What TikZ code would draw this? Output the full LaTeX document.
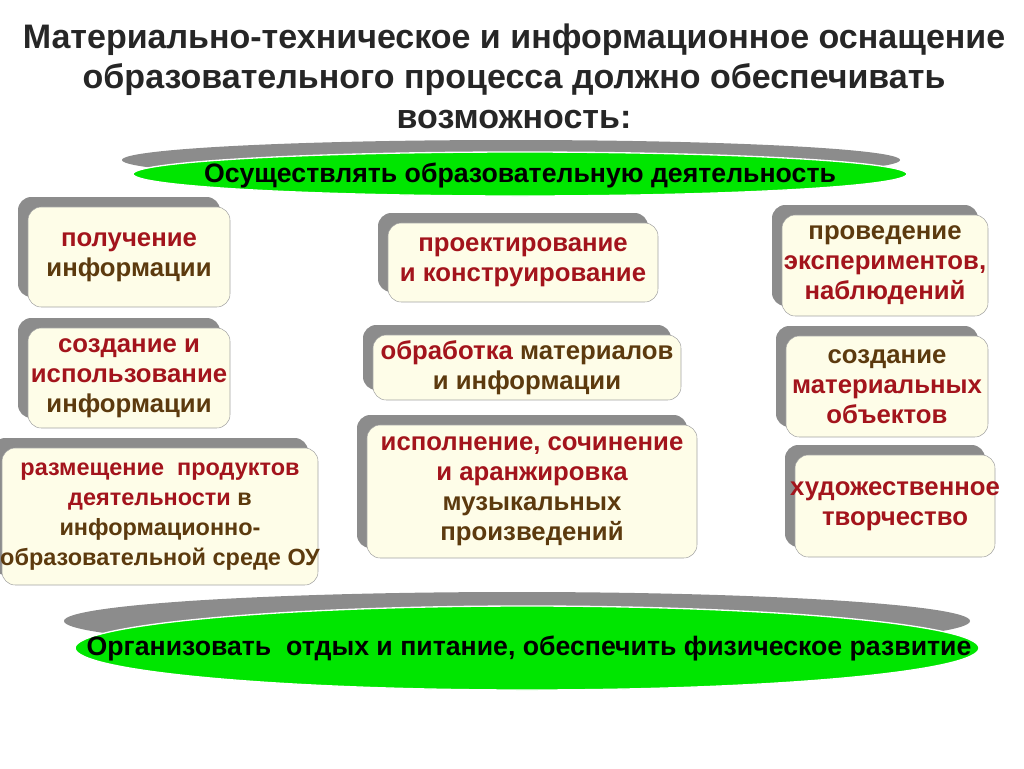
\documentclass[tikz,border=0pt]{standalone}
\usepackage{fontspec}
\setmainfont{Liberation Sans}
\definecolor{rd}{HTML}{A3141C}
\definecolor{br}{HTML}{5C3A0E}
\definecolor{bf}{HTML}{FEFDE8}
\definecolor{gr}{HTML}{00E600}
\definecolor{sh}{HTML}{8C8C8C}
\begin{document}
\begin{tikzpicture}[x=0.75pt,y=-0.75pt,
 boxf/.style={draw=sh!80,fill=bf,rounded corners=10pt},
 btext/.style={align=center,inner sep=0pt,font=\fontsize{19.3}{22.5}\selectfont\bfseries,text=br},
 shad/.style={fill=sh,rounded corners=10pt},
 etext/.style={font=\fontsize{20}{22}\selectfont\bfseries}]
\useasboundingbox (0,0) rectangle (1024,768);
\node[font=\fontsize{25.5}{30}\selectfont\bfseries,text=black!85,align=center] (title) at (514,76)
 {Материально-техническое и информационное оснащение\\образовательного процесса должно обеспечивать\\возможность:};
% ellipse 1
\fill[sh] (511,160) ellipse (389 and 20);
\fill[gr] (520,174) ellipse (387 and 22);
\draw[white,line width=1pt] (520,174) ellipse (387 and 22);
\node[etext] (e1) at (520,175) {Осуществлять образовательную деятельность};
% ellipse 2
\fill[sh] (517,621) ellipse (453 and 29);
\fill[gr] (527,648) ellipse (452 and 42);
\draw[white,line width=1pt] (527,648) ellipse (452 and 42);
\node[etext] (e2) at (529,648) {Организовать\ \ отдых и питание, обеспечить физическое развитие};
% boxes
\newcommand{\bx}[7][]{%
 \fill[shad] (#2-10,#3-10) rectangle (#4-10,#5-10);
 \draw[boxf] (#2,#3) rectangle (#4,#5);
 \node[btext,#1] (#6) at ({(#2+#4)/2},{(#3+#5)/2}) {#7};}
\bx{28}{207}{230}{307}{b1}{\textcolor{rd}{получение}\\информации}
\bx{28}{328}{230}{428}{b2}{\textcolor{rd}{создание и}\\\textcolor{rd}{использование}\\информации}
\bx[font=\fontsize{17.6}{22.5}\selectfont\bfseries]{2}{448}{318}{585}{b3}{\textcolor{rd}{размещение\ \ продуктов}\\\textcolor{rd}{деятельности} в\\информационно-\\образовательной среде ОУ}
\bx{388}{223}{658}{302}{b4}{\textcolor{rd}{проектирование}\\\textcolor{rd}{и конструирование}}
\bx{373}{335}{681}{400}{b5}{\textcolor{rd}{обработка} материалов\\и информации}
\bx{367}{425}{697}{558}{b6}{\textcolor{rd}{исполнение, сочинение}\\\textcolor{rd}{и аранжировка}\\музыкальных\\произведений}
\bx{782}{215}{988}{316}{b7}{проведение\\\textcolor{rd}{экспериментов,}\\\textcolor{rd}{наблюдений}}
\bx{786}{336}{988}{437}{b8}{создание\\\textcolor{rd}{материальных}\\\textcolor{rd}{объектов}}
\bx{795}{455}{995}{557}{b9}{\textcolor{rd}{художественное}\\\textcolor{rd}{творчество}}
\end{tikzpicture}
\end{document}
